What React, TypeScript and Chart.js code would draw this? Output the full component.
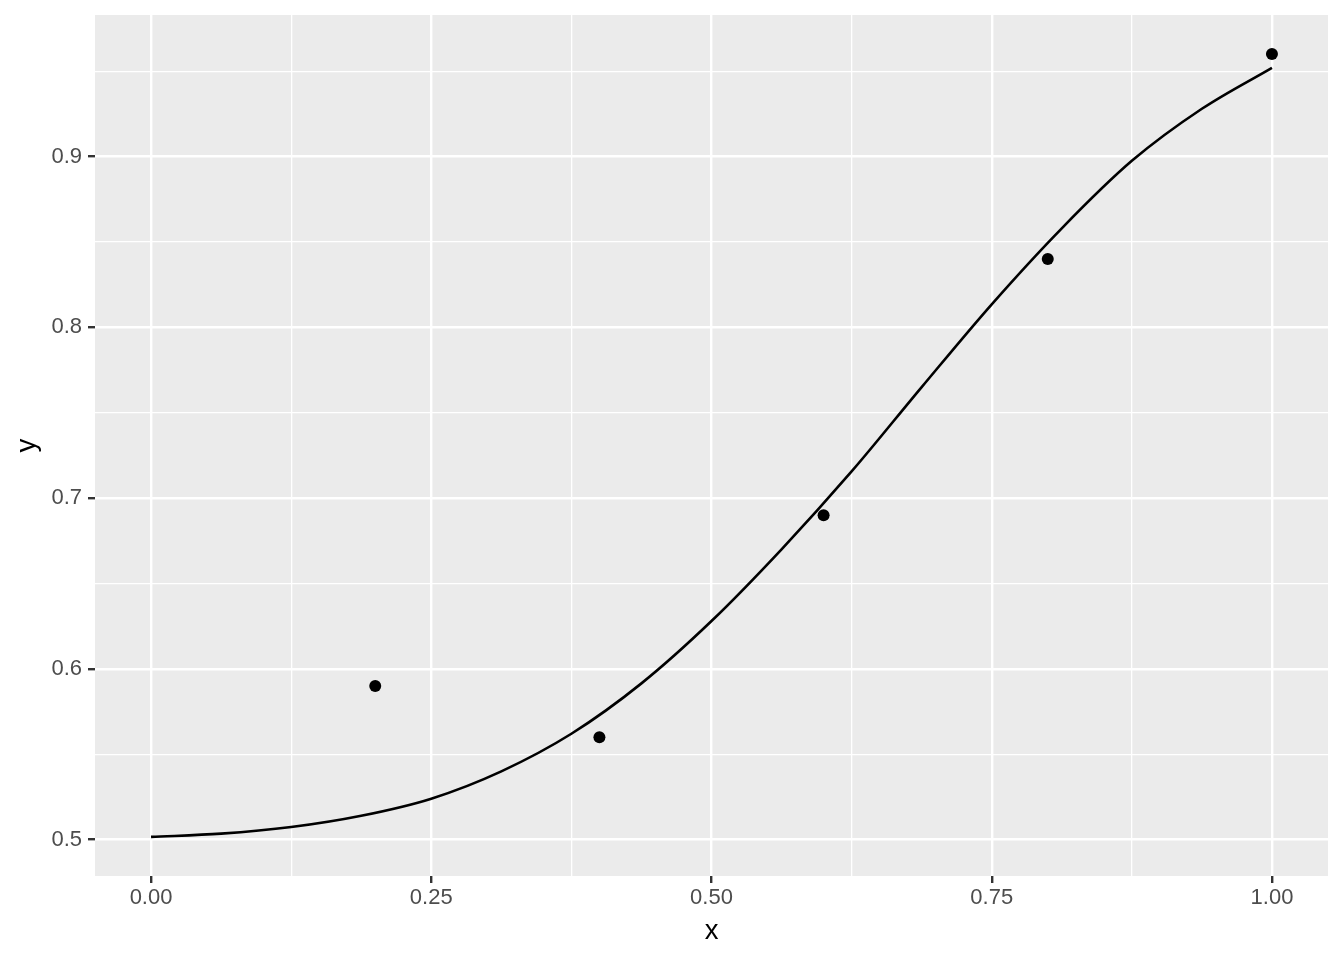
import React, { useEffect, useRef } from "react";
import { Chart, registerables } from "chart.js";

Chart.register(...registerables);

// Observed points
const pointX = [0.2, 0.4, 0.6, 0.8, 1.0];
const pointY = [0.59, 0.56, 0.69, 0.84, 0.96];

// Fitted curve
const curveX = [0, 0.0625, 0.125, 0.1875, 0.25, 0.3125, 0.375, 0.4375, 0.5, 0.5625, 0.625, 0.6875, 0.75, 0.8125, 0.875, 0.9375, 1.0];
const curveY = [0.5016, 0.5035, 0.5074, 0.514, 0.524, 0.54, 0.562, 0.5915, 0.628, 0.670, 0.7156, 0.765, 0.8135, 0.858, 0.8975, 0.928, 0.952];

// Axes
const xMajorTicks = [0, 0.25, 0.5, 0.75, 1.0];
const xTickLabels = ["0.00", "0.25", "0.50", "0.75", "1.00"];
const xMinorTicks = [0.125, 0.375, 0.625, 0.875];
const yMajorTicks = [0.5, 0.6, 0.7, 0.8, 0.9];
const yTickLabels = ["0.5", "0.6", "0.7", "0.8", "0.9"];
const yMinorTicks = [0.55, 0.65, 0.75, 0.85, 0.95];
const xLimits = [-0.05, 1.05];
const yLimits = [0.4787, 0.9829];
const xTitle = "x";
const yTitle = "y";

const FONT = "'Liberation Sans', Arial, Helvetica, sans-serif";

function findIndex(list: number[], v: number | undefined): number {
  if (v === undefined || v === null) return -1;
  for (let i = 0; i < list.length; i++) {
    if (Math.abs(list[i] - v) < 1e-9) return i;
  }
  return -1;
}

const panelBg = {
  id: "panelBg",
  beforeDraw(chart: any) {
    const { ctx, chartArea } = chart;
    if (!chartArea) return;
    ctx.save();
    ctx.fillStyle = "#EBEBEB";
    ctx.fillRect(chartArea.left, chartArea.top, chartArea.right - chartArea.left, chartArea.bottom - chartArea.top);
    ctx.restore();
  },
};

export default function App() {
  const canvasRef = useRef<HTMLCanvasElement | null>(null);

  useEffect(() => {
    const canvas = canvasRef.current;
    if (!canvas) return;

    const makeGrid = (major: number[]) => ({
      color: "#FFFFFF",
      lineWidth: (c: any) => (findIndex(major, c.tick?.value) >= 0 ? 2.4 : 1.3),
      drawTicks: true,
      tickLength: 7,
      tickWidth: 2.4,
      tickColor: (c: any) => (findIndex(major, c.tick?.value) >= 0 ? "#333333" : "rgba(0,0,0,0)"),
    });

    const chart = new Chart(canvas, {
      type: "scatter",
      data: {
        datasets: [
          {
            label: "fit",
            data: curveX.map((x, i) => ({ x, y: curveY[i] })),
            showLine: true,
            borderColor: "#000000",
            borderWidth: 2.6,
            pointRadius: 0,
            pointHoverRadius: 0,
            cubicInterpolationMode: "monotone",
            fill: false,
            order: 1,
          } as any,
          {
            label: "points",
            data: pointX.map((x, i) => ({ x, y: pointY[i] })),
            backgroundColor: "#000000",
            borderWidth: 0,
            pointRadius: 6,
            showLine: false,
            order: 0,
          } as any,
        ],
      },
      options: {
        responsive: false,
        animation: false,
        devicePixelRatio: 1,
        layout: { padding: { top: 15, right: 16, left: 0, bottom: 0 } },
        plugins: {
          legend: { display: false },
          tooltip: { enabled: false },
        },
        scales: {
          x: {
            type: "linear",
            position: "bottom",
            min: xLimits[0],
            max: xLimits[1],
            bounds: "data",
            afterBuildTicks: (s: any) => {
              s.ticks = [...xMajorTicks, ...xMinorTicks].sort((a, b) => a - b).map((v) => ({ value: v }));
            },
            afterFit: (s: any) => {
              s.height = 84;
              s.paddingLeft = 0;
              s.paddingRight = 0;
            },
            grid: makeGrid(xMajorTicks) as any,
            border: { display: false },
            ticks: {
              autoSkip: false,
              maxRotation: 0,
              minRotation: 0,
              padding: 2,
              color: "#4D4D4D",
              font: { family: FONT, size: 22 },
              callback: (v: any) => {
                const i = findIndex(xMajorTicks, Number(v));
                return i >= 0 ? xTickLabels[i] : "";
              },
            },
            title: {
              display: true,
              text: xTitle,
              color: "#000000",
              font: { family: FONT, size: 27.5, lineHeight: 1.2 },
              padding: { top: 0, bottom: 12 },
            },
          },
          y: {
            type: "linear",
            position: "left",
            min: yLimits[0],
            max: yLimits[1],
            bounds: "data",
            afterBuildTicks: (s: any) => {
              s.ticks = [...yMajorTicks, ...yMinorTicks].sort((a, b) => a - b).map((v) => ({ value: v }));
            },
            afterFit: (s: any) => {
              s.width = 95;
              s.paddingTop = 0;
              s.paddingBottom = 0;
            },
            grid: makeGrid(yMajorTicks) as any,
            border: { display: false },
            ticks: {
              autoSkip: false,
              padding: 6,
              color: "#4D4D4D",
              font: { family: FONT, size: 22 },
              callback: (v: any) => {
                const i = findIndex(yMajorTicks, Number(v));
                return i >= 0 ? yTickLabels[i] : "";
              },
            },
            title: {
              display: true,
              text: yTitle,
              color: "#000000",
              font: { family: FONT, size: 27.5, lineHeight: 1.2 },
              padding: { top: 11, bottom: 0 },
            },
          },
        },
      },
      plugins: [panelBg],
    });

    return () => {
      chart.destroy();
    };
  }, []);

  return (
    <div style={{ position: "absolute", left: 0, top: 0, width: 1344, height: 960, background: "#FFFFFF" }}>
      <canvas ref={canvasRef} width={1344} height={960} style={{ display: "block", width: 1344, height: 960 }} />
    </div>
  );
}
